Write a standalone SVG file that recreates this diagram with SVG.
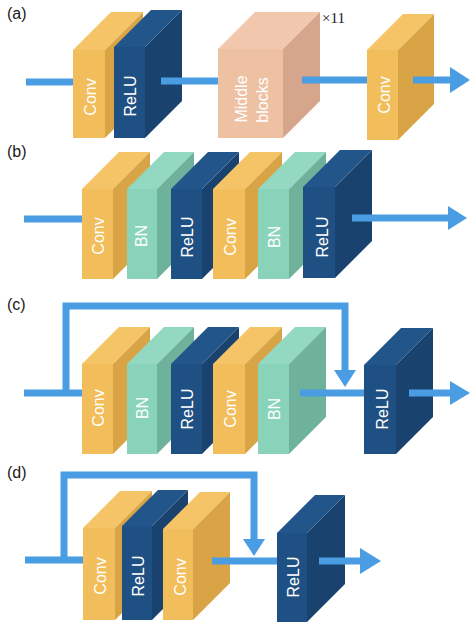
<svg xmlns="http://www.w3.org/2000/svg" width="474" height="630" viewBox="0 0 474 630">
<style>
.cf{fill:#F2BD5B}.ct{fill:#F4C466}.cs{fill:#D9A446}
.rf{fill:#1F5083}.rt{fill:#22568B}.rs{fill:#1A426E}
.bf{fill:#88D3BA}.bt{fill:#93D8C1}.bs{fill:#6FB29B}
.mf{fill:#EEC1A3}.mt{fill:#F1C8AD}.ms{fill:#D5A68C}
.lbl{font-family:"Liberation Sans",Arial,sans-serif;font-size:16px;fill:#FFFFFF;text-anchor:middle}
.pl{font-family:"Liberation Sans",Arial,sans-serif;font-size:16px;fill:#1a1a1a}
.ln{stroke:#4A9DE3;stroke-width:7;fill:none}
.hd{fill:#4A9DE3}
</style>
<rect width="474" height="630" fill="#FFFFFF"/>

<text class="pl" x="7" y="19">(a)</text>
<text class="pl" x="7" y="157">(b)</text>
<text class="pl" x="7" y="310">(c)</text>
<text class="pl" x="7" y="478">(d)</text>

<!-- Panel (a) -->
<g id="a-conv1">
<rect class="cf" x="73" y="50" width="32" height="88"/>
<polygon class="ct" points="73,50 111,12 143,12 105,50"/>
<polygon class="cs" points="105,50 143,12 143,100 105,138"/>
<text class="lbl" transform="translate(96,97) rotate(-90)">Conv</text>
</g>
<g id="a-relu1">
<rect class="rf" x="114" y="47" width="31" height="91"/>
<polygon class="rt" points="114,47 151,10 182,10 145,47"/>
<polygon class="rs" points="145,47 182,10 182,101 145,138"/>
<text class="lbl" transform="translate(136,96) rotate(-90)">ReLU</text>
</g>
<g id="a-middle">
<rect class="mf" x="218" y="49" width="65" height="89"/>
<polygon class="mt" points="218,49 255,12 320,12 283,49"/>
<polygon class="ms" points="283,49 320,12 320,101 283,138"/>
<text class="lbl" transform="translate(247,99) rotate(-90)">Middle</text>
<text class="lbl" transform="translate(268,100) rotate(-90)">blocks</text>
</g>
<text x="322" y="23" font-family="Liberation Serif,Times New Roman,serif" font-size="15" fill="#1a1a1a">×11</text>
<g id="a-conv2">
<rect class="cf" x="367" y="50" width="31" height="90"/>
<polygon class="ct" points="367,50 403,14 434,14 398,50"/>
<polygon class="cs" points="398,50 434,14 434,104 398,140"/>
<text class="lbl" transform="translate(390,95) rotate(-90)">Conv</text>
</g>

<!-- Panel (b) -->
<g id="b-conv1">
<rect class="cf" x="82" y="189" width="31" height="90"/>
<polygon class="ct" points="82,189 119,152 150,152 113,189"/>
<polygon class="cs" points="113,189 150,152 150,242 113,279"/>
<text class="lbl" transform="translate(104,236) rotate(-90)">Conv</text>
</g>
<g id="b-bn1">
<rect class="bf" x="127" y="189" width="30" height="90"/>
<polygon class="bt" points="127,189 164,152 194,152 157,189"/>
<polygon class="bs" points="157,189 194,152 194,242 157,279"/>
<text class="lbl" transform="translate(147,236) rotate(-90)">BN</text>
</g>
<g id="b-relu1">
<rect class="rf" x="171" y="189" width="31" height="90"/>
<polygon class="rt" points="171,189 208,152 239,152 202,189"/>
<polygon class="rs" points="202,189 239,152 239,242 202,279"/>
<text class="lbl" transform="translate(193,237) rotate(-90)">ReLU</text>
</g>
<g id="b-conv2">
<rect class="cf" x="213" y="189" width="32" height="90"/>
<polygon class="ct" points="213,189 250,152 282,152 245,189"/>
<polygon class="cs" points="245,189 282,152 282,242 245,279"/>
<text class="lbl" transform="translate(236,237) rotate(-90)">Conv</text>
</g>
<g id="b-bn2">
<rect class="bf" x="258" y="189" width="31" height="90"/>
<polygon class="bt" points="258,189 295,152 326,152 289,189"/>
<polygon class="bs" points="289,189 326,152 326,242 289,279"/>
<text class="lbl" transform="translate(280,237) rotate(-90)">BN</text>
</g>
<g id="b-relu2">
<rect class="rf" x="303" y="187" width="32" height="91"/>
<polygon class="rt" points="303,187 340,150 372,150 335,187"/>
<polygon class="rs" points="335,187 372,150 372,241 335,278"/>
<text class="lbl" transform="translate(328,237) rotate(-90)">ReLU</text>
</g>

<!-- Panel (c) -->
<g id="c-conv1">
<rect class="cf" x="82" y="364" width="31" height="90"/>
<polygon class="ct" points="82,364 119,327 150,327 113,364"/>
<polygon class="cs" points="113,364 150,327 150,417 113,454"/>
<text class="lbl" transform="translate(104,408) rotate(-90)">Conv</text>
</g>
<g id="c-bn1">
<rect class="bf" x="127" y="364" width="30" height="90"/>
<polygon class="bt" points="127,364 164,327 194,327 157,364"/>
<polygon class="bs" points="157,364 194,327 194,417 157,454"/>
<text class="lbl" transform="translate(148,408) rotate(-90)">BN</text>
</g>
<g id="c-relu1">
<rect class="rf" x="171" y="364" width="31" height="90"/>
<polygon class="rt" points="171,364 208,327 239,327 202,364"/>
<polygon class="rs" points="202,364 239,327 239,417 202,454"/>
<text class="lbl" transform="translate(193,409) rotate(-90)">ReLU</text>
</g>
<g id="c-conv2">
<rect class="cf" x="213" y="364" width="32" height="90"/>
<polygon class="ct" points="213,364 250,327 282,327 245,364"/>
<polygon class="cs" points="245,364 282,327 282,417 245,454"/>
<text class="lbl" transform="translate(236,409) rotate(-90)">Conv</text>
</g>
<g id="c-bn2">
<rect class="bf" x="258" y="364" width="31" height="90"/>
<polygon class="bt" points="258,364 295,327 326,327 289,364"/>
<polygon class="bs" points="289,364 326,327 326,417 289,454"/>
<text class="lbl" transform="translate(280,409) rotate(-90)">BN</text>
</g>
<g id="c-relu2">
<rect class="rf" x="364" y="365" width="32" height="89"/>
<polygon class="rt" points="364,365 401,328 433,328 396,365"/>
<polygon class="rs" points="396,365 433,328 433,417 396,454"/>
<text class="lbl" transform="translate(388,409) rotate(-90)">ReLU</text>
</g>

<!-- Panel (d) -->
<g id="d-conv1">
<rect class="cf" x="83" y="528" width="32" height="92"/>
<polygon class="ct" points="83,528 120,491 152,491 115,528"/>
<polygon class="cs" points="115,528 152,491 152,583 115,620"/>
<text class="lbl" transform="translate(106,576) rotate(-90)">Conv</text>
</g>
<g id="d-relu1">
<rect class="rf" x="122" y="526" width="30" height="94"/>
<polygon class="rt" points="122,526 158,490 188,490 152,526"/>
<polygon class="rs" points="152,526 188,490 188,584 152,620"/>
<text class="lbl" transform="translate(144,576) rotate(-90)">ReLU</text>
</g>
<g id="d-conv2">
<rect class="cf" x="163" y="529" width="30" height="91"/>
<polygon class="ct" points="163,529 200,492 230,492 193,529"/>
<polygon class="cs" points="193,529 230,492 230,583 193,620"/>
<text class="lbl" transform="translate(186,577) rotate(-90)">Conv</text>
</g>
<g id="d-relu2">
<rect class="rf" x="277" y="533" width="30" height="89"/>
<polygon class="rt" points="277,533 315,495 345,495 307,533"/>
<polygon class="rs" points="307,533 345,495 345,584 307,622"/>
<text class="lbl" transform="translate(299,577) rotate(-90)">ReLU</text>
</g>

<!-- Connectors -->
<g id="connectors">
<line class="ln" x1="26" y1="82" x2="73" y2="82"/>
<line class="ln" x1="161" y1="81" x2="218" y2="81"/>
<line class="ln" x1="302" y1="80" x2="367" y2="80"/>
<line class="ln" x1="413" y1="80" x2="452" y2="80"/>
<polygon class="hd" points="450,67 470,80 450,93"/>

<line class="ln" x1="24" y1="219" x2="82" y2="219"/>
<line class="ln" x1="352" y1="218" x2="450" y2="218"/>
<polygon class="hd" points="448,206 467,218 448,230"/>

<line class="ln" x1="24" y1="393" x2="82" y2="393"/>
<polyline class="ln" points="66,393 66,306 345,306 345,372"/>
<polygon class="hd" points="334,370 356,370 345,387"/>
<line class="ln" x1="300" y1="393" x2="364" y2="393"/>
<line class="ln" x1="409" y1="393" x2="452" y2="393"/>
<polygon class="hd" points="450,381 470,393 450,405"/>

<line class="ln" x1="25" y1="560" x2="83" y2="560"/>
<polyline class="ln" points="64,560 64,475 254,475 254,541"/>
<polygon class="hd" points="243,539 265,539 254,556"/>
<line class="ln" x1="212" y1="561" x2="277" y2="561"/>
<line class="ln" x1="319" y1="561" x2="362" y2="561"/>
<polygon class="hd" points="360,548 381,561 360,574"/>
</g>
</svg>
